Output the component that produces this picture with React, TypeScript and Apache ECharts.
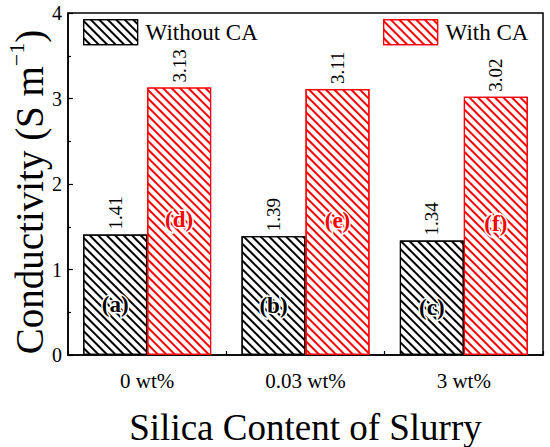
import React, { useEffect, useRef } from 'react';
import * as echarts from 'echarts';

const categories = ['0 wt%', '0.03 wt%', '3 wt%'];
const withoutCA = [1.41, 1.39, 1.34];
const withCA = [3.13, 3.11, 3.02];
const lettersWithout = ['(a)', '(b)', '(c)'];
const lettersWith = ['(d)', '(e)', '(f)'];
const seriesNames = ['Without CA', 'With CA'];

const FONT = "'Liberation Serif', 'Times New Roman', Times, serif";

const hatch = (c: string) => ({
  symbol: 'rect',
  symbolSize: 1,
  color: c,
  dashArrayX: [1, 0],
  dashArrayY: [1.2, 3.8],
  rotation: Math.PI / 4,
});

const valueLabel = (vals: number[]) => ({
  show: true,
  position: 'top',
  rotate: 90,
  align: 'left',
  verticalAlign: 'middle',
  distance: 5,
  fontFamily: FONT,
  fontSize: 19,
  color: '#000',
  formatter: (p: any) => vals[p.dataIndex].toFixed(2),
});

const letterLabel = (letters: string[], color: string, dy: number) => ({
  show: true,
  position: 'inside',
  offset: [0, dy],
  fontFamily: FONT,
  fontWeight: 'bold',
  fontSize: 23,
  color,
  textBorderColor: '#fff',
  textBorderWidth: 3,
  formatter: (p: any) => letters[p.dataIndex],
});

const legendBase = {
  top: 19,
  padding: 0,
  itemWidth: 54,
  itemHeight: 25,
  icon: 'rect',
  textStyle: { fontFamily: FONT, fontSize: 23, color: '#000', padding: [0, 0, 0, 3] },
};

export default function App() {
  const ref = useRef<HTMLDivElement>(null);
  useEffect(() => {
    if (!ref.current) return;
    const chart = echarts.init(ref.current, undefined, { renderer: 'svg' });
    chart.setOption({
      animation: false,
      backgroundColor: '#fff',
      grid: {
        left: 68,
        right: 7,
        top: 13,
        bottom: 92,
        outerBoundsMode: 'none',
        containLabel: false,
        show: true,
        borderColor: '#000',
        borderWidth: 1.5,
        backgroundColor: 'transparent',
      },
      legend: [
        { ...legendBase, data: [seriesNames[0]], left: 83, itemStyle: { borderWidth: 1.2, borderColor: '#000' } },
        { ...legendBase, data: [seriesNames[1]], left: 383, itemStyle: { borderWidth: 1.2, borderColor: '#ff0000' } },
      ],
      xAxis: {
        type: 'category',
        data: categories,
        axisLine: { show: true, lineStyle: { color: '#000', width: 1.5 } },
        axisTick: { show: true, inside: true, length: 4, lineStyle: { color: '#000', width: 1.2 } },
        axisLabel: { fontFamily: FONT, fontSize: 21, color: '#000', margin: 15 },
        name: 'Silica Content of Slurry',
        nameLocation: 'middle',
        nameMoveOverlap: false,
        nameGap: 54,
        nameTextStyle: { fontFamily: FONT, fontSize: 37, color: '#000' },
      },
      yAxis: {
        type: 'value',
        min: 0,
        max: 4,
        interval: 1,
        axisLine: { show: true, lineStyle: { color: '#000', width: 1.5 } },
        axisTick: { show: true, inside: true, length: 5, lineStyle: { color: '#000', width: 1.2 } },
        minorTick: { show: true, splitNumber: 2, length: 3, lineStyle: { color: '#000', width: 1.2 } },
        splitLine: { show: false },
        axisLabel: { fontFamily: FONT, fontSize: 20, color: '#000', margin: 6 },
        name: '{a|Conductivity (S m}{s|\u22121}{a|)}',
        nameLocation: 'middle',
        nameRotate: 90,
        nameMoveOverlap: false,
        nameGap: 15,
        nameTextStyle: {
          fontFamily: FONT,
          fontSize: 39,
          color: '#000',
          padding: [0, 16, 0, 0],
          rich: {
            a: { fontFamily: FONT, fontSize: 39, color: '#000', lineHeight: 48 },
            s: { fontFamily: FONT, fontSize: 22, color: '#000', verticalAlign: 'top', lineHeight: 22 },
          },
        },
      },
      series: [
        {
          name: seriesNames[0],
          type: 'bar',
          stack: 'w',
          barWidth: 64,
          barGap: '0%',
          data: withoutCA,
          itemStyle: { color: '#fff', borderColor: '#000', borderWidth: 1.2, decal: hatch('#000') },
          label: letterLabel(lettersWithout, '#000', 10),
        },
        {
          name: 'Without CA value',
          type: 'bar',
          stack: 'w',
          barWidth: 64,
          barGap: '0%',
          silent: true,
          data: withoutCA.map(() => 0),
          itemStyle: { color: 'transparent', borderWidth: 0 },
          label: valueLabel(withoutCA),
        },
        {
          name: seriesNames[1],
          type: 'bar',
          stack: 'c',
          barWidth: 64,
          barGap: '0%',
          data: withCA,
          itemStyle: { color: '#fff', borderColor: '#ff0000', borderWidth: 1.2, decal: hatch('#ff0000') },
          label: letterLabel(lettersWith, '#ff0000', -2),
        },
        {
          name: 'With CA value',
          type: 'bar',
          stack: 'c',
          barWidth: 64,
          barGap: '0%',
          silent: true,
          data: withCA.map(() => 0),
          itemStyle: { color: 'transparent', borderWidth: 0 },
          label: valueLabel(withCA),
        },
      ],
    });
    return () => chart.dispose();
  }, []);
  return <div ref={ref} style={{ position: 'absolute', left: 0, top: 0, width: 550, height: 447 }} />;
}
